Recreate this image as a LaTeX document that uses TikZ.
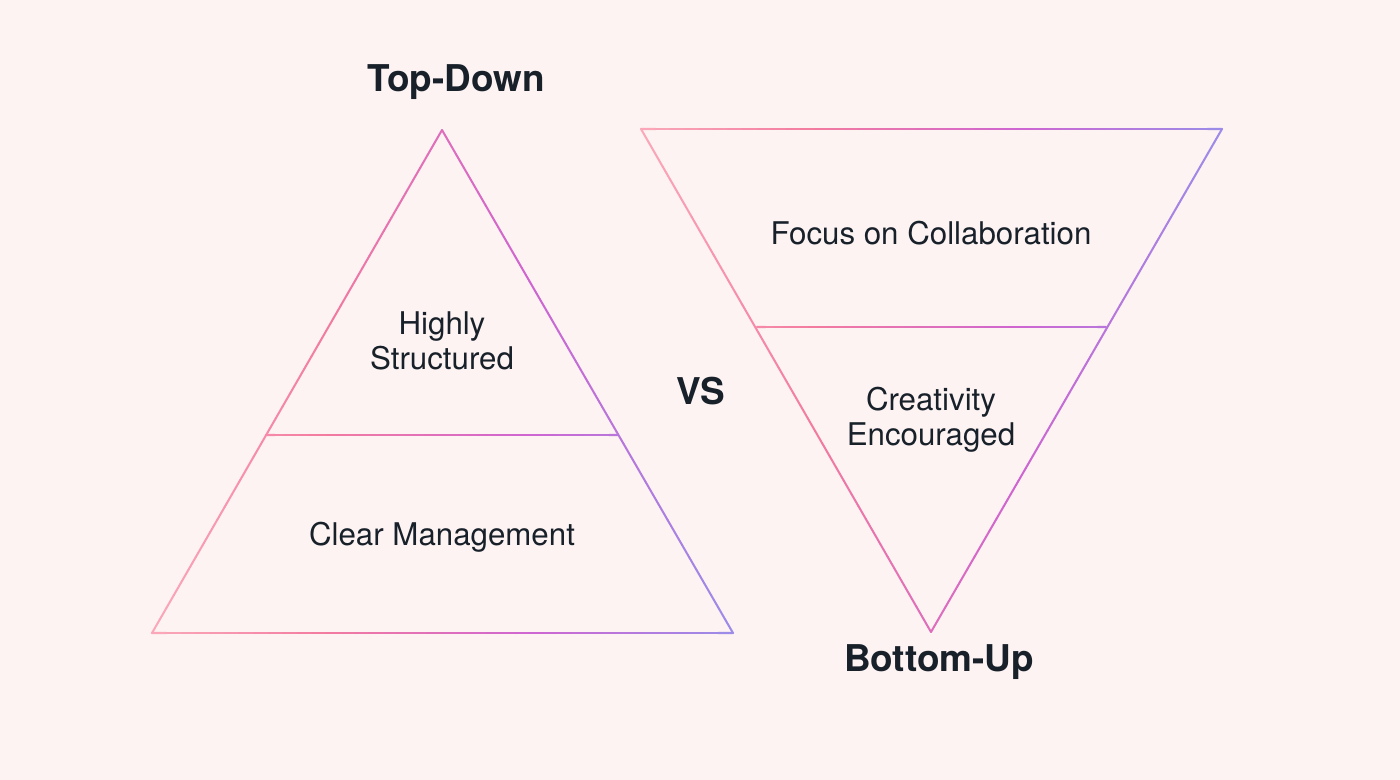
\documentclass[tikz,border=0pt]{standalone}
\usepackage{fontspec}
\setmainfont{TeX Gyre Heros}
\usepackage{xcolor}
\usetikzlibrary{positioning,calc}

\definecolor{bgpaper}{HTML}{FDF3F2}
\definecolor{ink}{HTML}{18202A}
\definecolor{gA}{HTML}{FBA9BA}
\definecolor{gB}{HTML}{F37BA0}
\definecolor{gC}{HTML}{CF65D1}
\definecolor{gD}{HTML}{9B8CE9}

% colour of the left-to-right gradient at fraction #1
\newcommand{\setgradcolor}[1]{%
  \pgfmathsetmacro\gt{#1}%
  \ifdim\gt pt<0.3pt
    \pgfmathsetmacro\gp{\gt/0.3*100}\colorlet{gradc}{gB!\gp!gA}%
  \else\ifdim\gt pt<0.65pt
    \pgfmathsetmacro\gp{(\gt-0.3)/0.35*100}\colorlet{gradc}{gC!\gp!gB}%
  \else
    \pgfmathsetmacro\gp{(\gt-0.65)/0.35*100}\colorlet{gradc}{gD!\gp!gC}%
  \fi\fi}

% gradient line between two named points, with their gradient fractions
\newcommand{\gradline}[4]{%
  \foreach \k in {1,...,40}{
    \pgfmathsetmacro\sa{(\k-1)/40}
    \pgfmathsetmacro\sb{\k/40}
    \setgradcolor{#2+(\k-0.5)/40*(#4-#2)}
    \draw[edge, draw=gradc] ($(#1)!\sa!(#3)$) -- ($(#1)!\sb!(#3)$);
  }}

\begin{document}
\begin{tikzpicture}[
    x=0.02cm, y=-0.02cm,
    edge/.style={line width=1.15pt, line cap=round},
    title/.style={font=\bfseries\fontsize{21}{24}\selectfont, text=ink},
    label/.style={font=\fontsize{17.8}{20}\selectfont, text=ink, align=center}
  ]
  \fill[bgpaper] (0,0) rectangle (1400,780);
  \useasboundingbox (0,0) rectangle (1400,780);

  % Top-Down pyramid
  \coordinate (tdApex) at (442,130);
  \coordinate (tdBL) at (152,633);
  \coordinate (tdBR) at (733,633);
  \coordinate (tdML) at (266,435);
  \coordinate (tdMR) at (618,435);
  \gradline{tdApex}{0.5}{tdBL}{0}
  \gradline{tdApex}{0.5}{tdBR}{1}
  \gradline{tdBL}{0}{tdBR}{1}
  \gradline{tdML}{0.196}{tdMR}{0.802}

  % Bottom-Up pyramid (upside down)
  \coordinate (buTL) at (641,129);
  \coordinate (buTR) at (1222,129);
  \coordinate (buApex) at (931,632);
  \coordinate (buML) at (757,327);
  \coordinate (buMR) at (1106,327);
  \gradline{buTL}{0}{buTR}{1}
  \gradline{buTL}{0}{buApex}{0.5}
  \gradline{buApex}{0.5}{buTR}{1}
  \gradline{buML}{0.2}{buMR}{0.8}

  % texts
  \node[title] (tdTitle) at (456,82) {Top-Down};
  \node[label] (tdHigh) at (442,341) {Highly\\Structured};
  \node[label] (tdClear) at (442,537) {Clear Management};
  \node[title] (vsText) at (701,391) {VS};
  \node[label] (buFocus) at (931,233) {Focus on Collaboration};
  \node[label] (buCreat) at (931,420) {Creativity\\Encouraged};
  \node[title] (buTitle) at (939,662) {Bottom-Up};
\end{tikzpicture}
\end{document}
